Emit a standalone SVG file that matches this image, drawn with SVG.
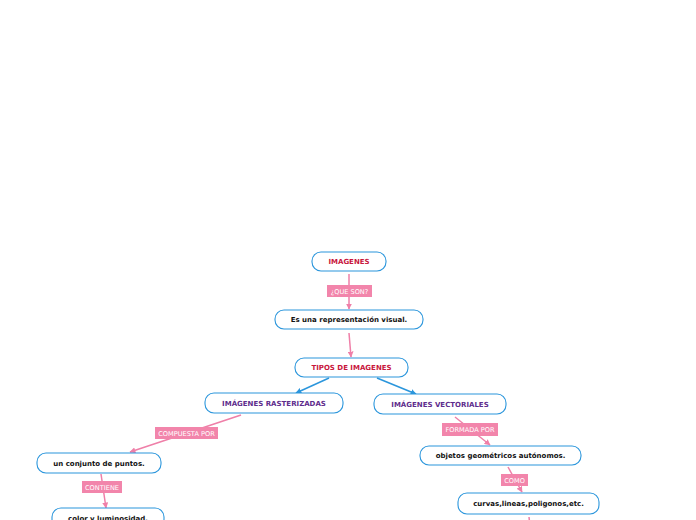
<svg xmlns="http://www.w3.org/2000/svg" width="696" height="520" viewBox="0 0 696 520">
<defs>
<marker id="ap" viewBox="0 0 10 10" refX="9" refY="5" markerWidth="4" markerHeight="4" orient="auto" markerUnits="strokeWidth"><path d="M0,0 L10,5 L0,10 z" fill="#ef7fa8"/></marker>
<marker id="ab" viewBox="0 0 10 10" refX="9" refY="5" markerWidth="4" markerHeight="4" orient="auto" markerUnits="strokeWidth"><path d="M0,0 L10,5 L0,10 z" fill="#2b96dc"/></marker>
<style>
.n{fill:#fff;stroke:#2b96dc;stroke-width:1.1}
.t{font-family:"DejaVu Sans",Verdana,sans-serif;font-weight:bold;font-size:7px;text-anchor:middle}
.red{fill:#c8163c}
.pur{fill:#5e2c8c}
.blk{fill:#111}
.cp{stroke:#ef7fa8;stroke-width:1.5;fill:none}
.cb{stroke:#2b96dc;stroke-width:1.5;fill:none}
.lb{fill:#f285ab}
.lt{font-family:"DejaVu Sans",Verdana,sans-serif;font-size:6.6px;fill:#fff;text-anchor:middle}
</style>
</defs>
<rect width="696" height="520" fill="#fff"/>
<g id="connectors">
<line class="cp" x1="349" y1="274" x2="349" y2="309" marker-end="url(#ap)"/>
<line class="cp" x1="349" y1="333" x2="351" y2="357" marker-end="url(#ap)"/>
<line class="cb" x1="329" y1="378" x2="296" y2="393" marker-end="url(#ab)"/>
<line class="cb" x1="377" y1="378" x2="416" y2="394" marker-end="url(#ab)"/>
<line class="cp" x1="241" y1="415" x2="130" y2="452" marker-end="url(#ap)"/>
<line class="cp" x1="101" y1="474" x2="106" y2="508" marker-end="url(#ap)"/>
<line class="cp" x1="455" y1="417" x2="490" y2="445" marker-end="url(#ap)"/>
<line class="cp" x1="508" y1="467" x2="522" y2="492" marker-end="url(#ap)"/>
<line class="cp" x1="529" y1="517" x2="530" y2="526"/>
<g id="l1"><rect class="lb" x="327" y="285" width="45" height="12"/><text class="lt" x="349.5" y="293.5">¿QUE SON?</text></g>
<g id="l2"><rect class="lb" x="155" y="427" width="63" height="12"/><text class="lt" x="186.5" y="435.5">COMPUESTA POR</text></g>
<g id="l3"><rect class="lb" x="82" y="481" width="40" height="12"/><text class="lt" x="102" y="489.5">CONTIENE</text></g>
<g id="l4"><rect class="lb" x="442" y="423" width="56" height="13"/><text class="lt" x="470" y="432">FORMADA POR</text></g>
<g id="l5"><rect class="lb" x="501" y="474" width="27" height="12"/><text class="lt" x="514.5" y="482.5">COMO</text></g>
</g>
<g id="imagenes"><rect class="n" x="312" y="252" width="74" height="19" rx="9"/><text class="t red" x="349" y="264">IMAGENES</text></g>
<g id="representacion"><rect class="n" x="275" y="310" width="148" height="19" rx="9"/><text class="t blk" x="349" y="322">Es una representación visual.</text></g>
<g id="tipos"><rect class="n" x="295" y="358" width="113" height="19" rx="9"/><text class="t red" x="351.5" y="370">TIPOS DE IMAGENES</text></g>
<g id="rasterizadas"><rect class="n" x="205" y="393" width="138" height="20" rx="9"/><text class="t pur" x="274" y="405.5">IMÁGENES RASTERIZADAS</text></g>
<g id="vectoriales"><rect class="n" x="374" y="394" width="132" height="20" rx="9"/><text class="t pur" x="440" y="406.5">IMÁGENES VECTORIALES</text></g>
<g id="puntos"><rect class="n" x="37" y="453" width="124" height="20" rx="9"/><text class="t blk" x="99" y="465.5">un conjunto de puntos.</text></g>
<g id="color"><rect class="n" x="52" y="508" width="112" height="20" rx="9"/><text class="t blk" x="108" y="520.5">color y luminosidad.</text></g>
<g id="objetos"><rect class="n" x="420" y="446" width="161" height="19" rx="9"/><text class="t blk" x="500.5" y="458">objetos geométricos autónomos.</text></g>
<g id="curvas"><rect class="n" x="458" y="493" width="141" height="21" rx="9"/><text class="t blk" x="528.5" y="506">curvas,lineas,poligonos,etc.</text></g>
</svg>
